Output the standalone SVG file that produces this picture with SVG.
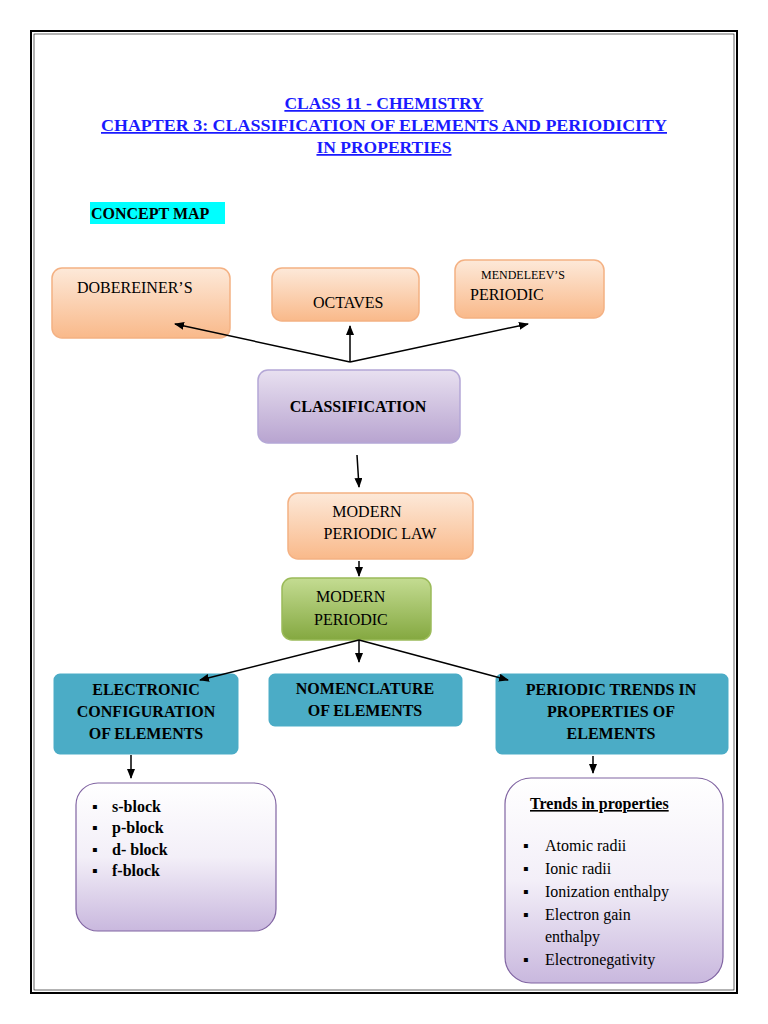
<svg xmlns="http://www.w3.org/2000/svg" width="768" height="1024" viewBox="0 0 768 1024">
<style>
.t{font-family:"Liberation Serif",serif;fill:#000}
.b{font-weight:bold}
.h{font-family:"Liberation Serif",serif;font-weight:bold;font-size:17.5px;fill:#1a1aff;text-decoration:underline;text-anchor:middle}
.c{text-anchor:middle}
.or{fill:url(#go);stroke:#f4b183;stroke-width:1.5}
.pu{fill:url(#gp);stroke:#b4a7d6;stroke-width:1.5}
.gr{fill:url(#gg);stroke:#9bbb59;stroke-width:1.5}
.te{fill:#4bacc6;stroke:#fff;stroke-width:3}
.wp{fill:url(#gw);stroke:#8064a2;stroke-width:1.2}
.ar{stroke:#000;stroke-width:1.5;fill:none;marker-end:url(#m)}
</style>
<defs>
<linearGradient id="go" x1="0" y1="0" x2="0" y2="1"><stop offset="0" stop-color="#fde9d9"/><stop offset="1" stop-color="#f9b98a"/></linearGradient>
<linearGradient id="gp" x1="0" y1="0" x2="0" y2="1"><stop offset="0" stop-color="#e8e0f0"/><stop offset="1" stop-color="#b8a4d0"/></linearGradient>
<linearGradient id="gg" x1="0" y1="0" x2="0" y2="1"><stop offset="0" stop-color="#c4dc92"/><stop offset="1" stop-color="#84a840"/></linearGradient>
<linearGradient id="gw" x1="0" y1="0" x2="0" y2="1"><stop offset="0" stop-color="#fff"/><stop offset="0.5" stop-color="#f3eff8"/><stop offset="1" stop-color="#c9b8de"/></linearGradient>
<marker id="m" markerWidth="10" markerHeight="8" refX="9" refY="4" orient="auto" markerUnits="userSpaceOnUse"><path d="M0,0 L10,4 L0,8 z" fill="#000"/></marker>
</defs>
<rect x="0" y="0" width="768" height="1024" fill="#fff"/>
<rect x="31" y="31" width="706" height="962" fill="none" stroke="#000" stroke-width="2"/>
<rect x="34" y="34" width="700" height="956" fill="none" stroke="#000" stroke-width="0.6"/>
<text class="h" x="384" y="109">CLASS 11 - CHEMISTRY</text>
<text class="h" x="384" y="131" textLength="566" lengthAdjust="spacingAndGlyphs">CHAPTER 3: CLASSIFICATION OF ELEMENTS AND PERIODICITY</text>
<text class="h" x="384" y="153">IN PROPERTIES</text>
<rect x="90" y="202" width="135" height="22" fill="#00ffff"/>
<text class="t b" x="91" y="219" font-size="16">CONCEPT MAP</text>
<g id="dob"><rect class="or" x="52" y="268" width="178" height="70" rx="10"/><text class="t" x="77" y="293" font-size="16">DOBEREINER’S</text></g>
<g id="oct"><rect class="or" x="272" y="268" width="147" height="53" rx="10"/><text class="t" x="313" y="308" font-size="16">OCTAVES</text></g>
<g id="men"><rect class="or" x="455" y="260" width="149" height="58" rx="10"/><text class="t" x="481" y="279" font-size="12">MENDELEEV’S</text><text class="t" x="470" y="300" font-size="16">PERIODIC</text></g>
<g id="cls"><rect class="pu" x="258" y="370" width="202" height="73" rx="10"/><text class="t b c" x="358" y="412" font-size="16">CLASSIFICATION</text></g>
<g id="mpl"><rect class="or" x="288" y="493" width="185" height="66" rx="10"/><text class="t c" x="367" y="517" font-size="16">MODERN</text><text class="t c" x="380" y="539" font-size="16">PERIODIC LAW</text></g>
<g id="mp"><rect class="gr" x="282" y="578" width="149" height="62" rx="10"/><text class="t" x="316" y="602" font-size="16">MODERN</text><text class="t" x="314" y="625" font-size="16">PERIODIC</text></g>
<g id="ec"><rect class="te" x="52" y="672" width="188" height="84" rx="8"/><text class="t b c" x="146" y="695" font-size="16">ELECTRONIC</text><text class="t b c" x="146" y="717" font-size="16">CONFIGURATION</text><text class="t b c" x="146" y="739" font-size="16">OF ELEMENTS</text></g>
<g id="nom"><rect class="te" x="267" y="672" width="197" height="56" rx="8"/><text class="t b c" x="365" y="694" font-size="16">NOMENCLATURE</text><text class="t b c" x="365" y="716" font-size="16">OF ELEMENTS</text></g>
<g id="pt"><rect class="te" x="494" y="672" width="236" height="84" rx="8"/><text class="t b c" x="611" y="695" font-size="16">PERIODIC TRENDS IN</text><text class="t b c" x="611" y="717" font-size="16">PROPERTIES OF</text><text class="t b c" x="611" y="739" font-size="16">ELEMENTS</text></g>
<g id="blk"><rect class="wp" x="76" y="783" width="200" height="148" rx="22"/>
<g class="t b" font-size="16"><text x="92" y="812">▪</text><text x="112" y="812">s-block</text><text x="92" y="833">▪</text><text x="112" y="833">p-block</text><text x="92" y="855">▪</text><text x="112" y="855">d- block</text><text x="92" y="876">▪</text><text x="112" y="876">f-block</text></g></g>
<g id="tr"><rect class="wp" x="505" y="778" width="218" height="205" rx="26"/>
<text class="t b" x="530" y="809" font-size="16" text-decoration="underline">Trends in  properties</text>
<g class="t" font-size="16"><text x="523" y="851">▪</text><text x="545" y="851">Atomic radii</text><text x="523" y="874">▪</text><text x="545" y="874">Ionic radii</text><text x="523" y="897">▪</text><text x="545" y="897">Ionization enthalpy</text><text x="523" y="920">▪</text><text x="545" y="920">Electron gain</text><text x="545" y="942">enthalpy</text><text x="523" y="965">▪</text><text x="545" y="965">Electronegativity</text></g></g>
<g id="connectors">
<line class="ar" x1="350" y1="362" x2="175" y2="324"/>
<line class="ar" x1="350" y1="362" x2="350" y2="326"/>
<line class="ar" x1="350" y1="362" x2="528" y2="324"/>
<line class="ar" x1="357" y1="455" x2="359" y2="487"/>
<line class="ar" x1="359" y1="561" x2="359" y2="576"/>
<line class="ar" x1="359" y1="640" x2="200" y2="680"/>
<line class="ar" x1="359" y1="640" x2="359" y2="662"/>
<line class="ar" x1="359" y1="640" x2="508" y2="680"/>
<line class="ar" x1="131" y1="755" x2="131" y2="778"/>
<line class="ar" x1="593" y1="756" x2="593" y2="773"/>
</g>
</svg>
